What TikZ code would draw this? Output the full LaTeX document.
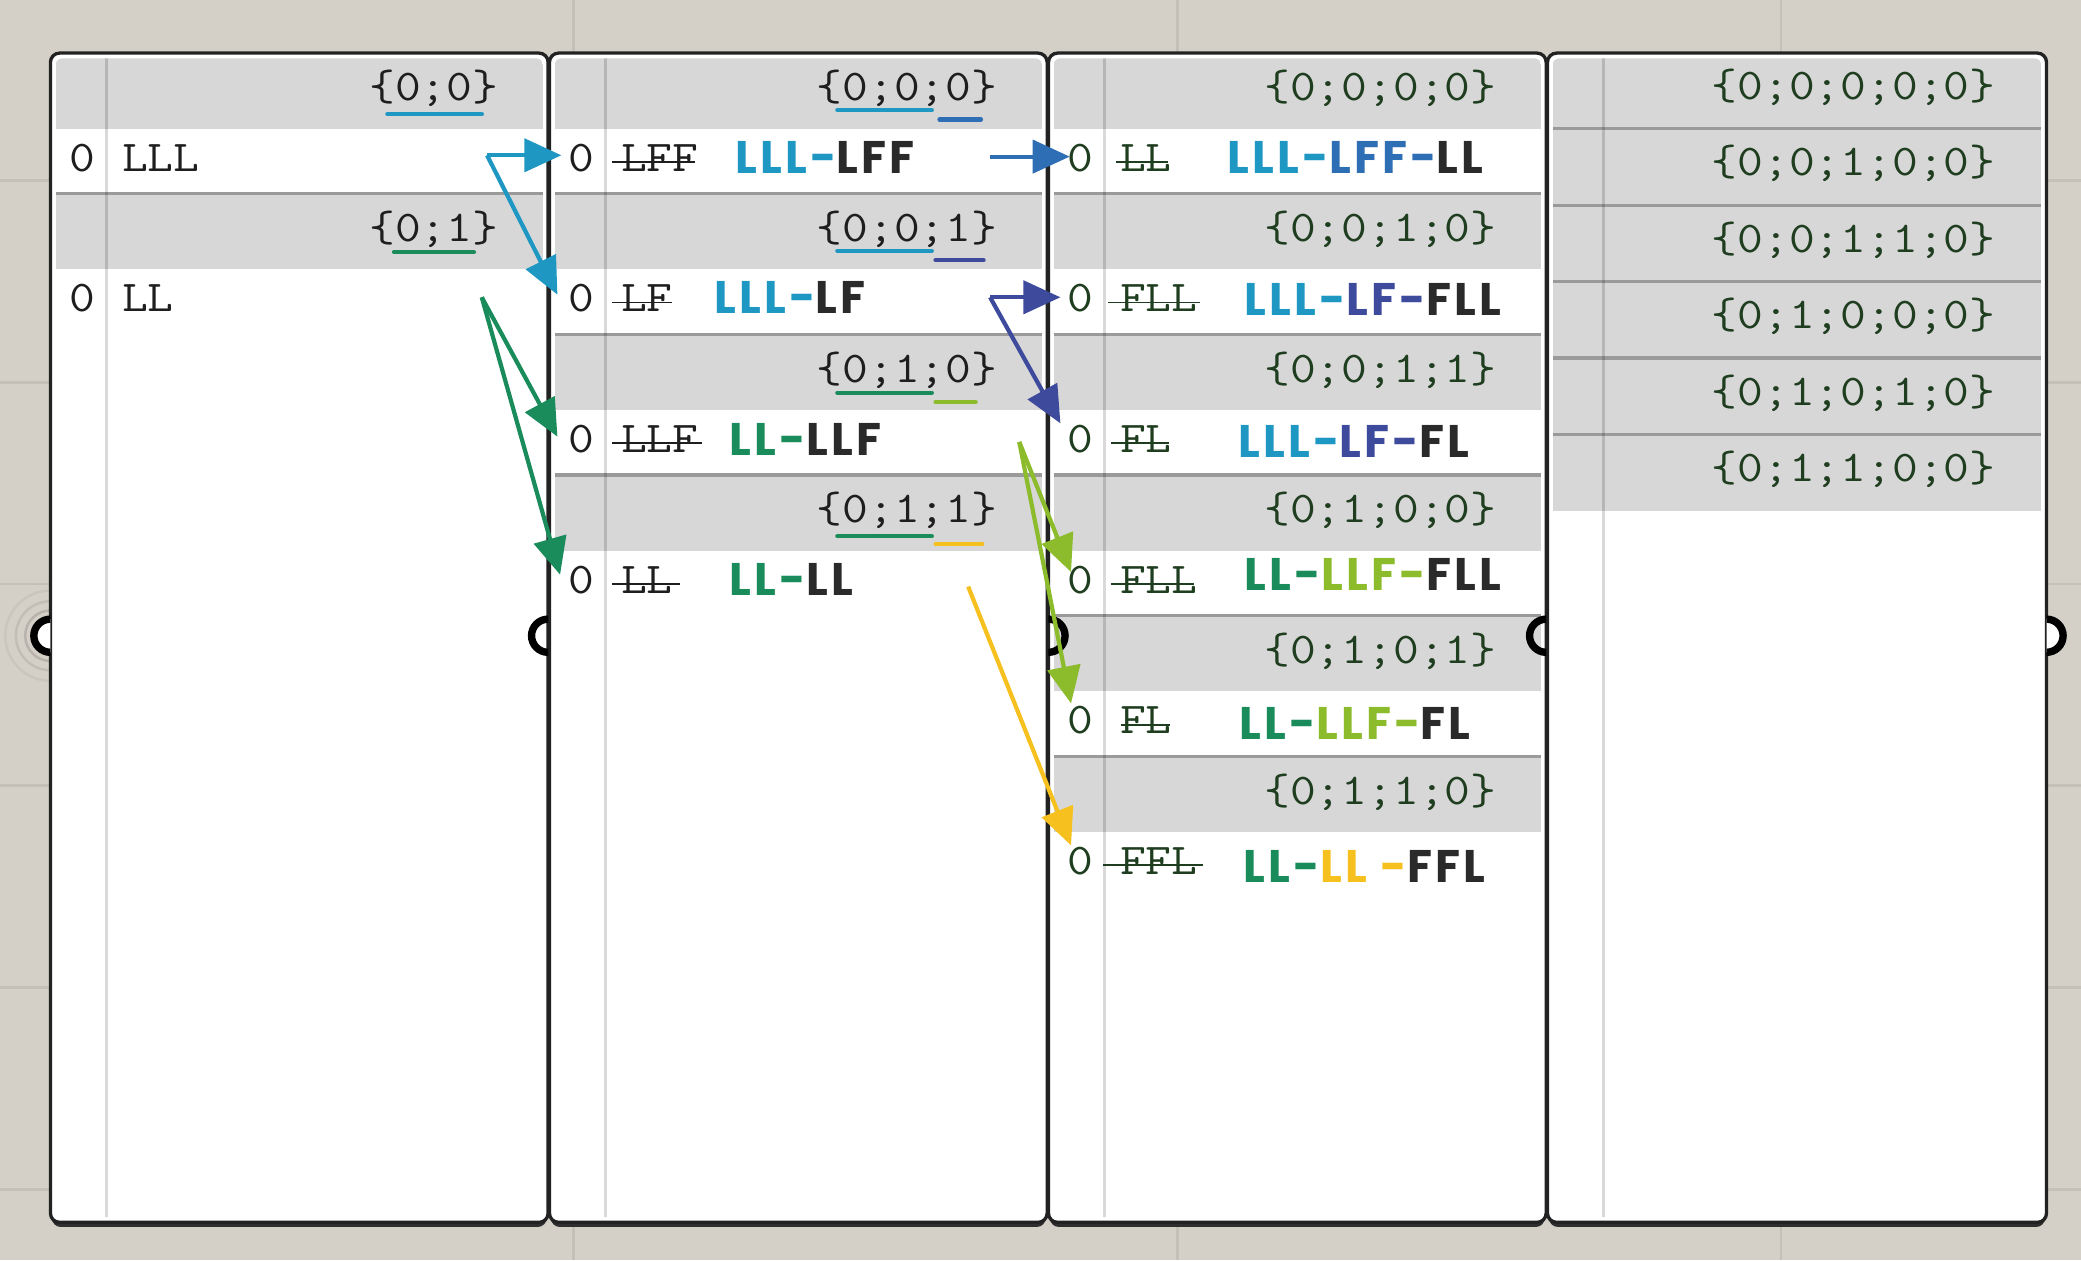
\documentclass[tikz,border=0pt]{standalone}
\usepackage{fontspec}
\usepackage{graphicx}
\usetikzlibrary{arrows.meta,calc}
\newfontfamily\handf{Poppins}[LetterSpace=7]
\newcommand\mt[1]{\scalebox{1.14}[1]{#1}}
\definecolor{bgc}{HTML}{D4D0C8}
\definecolor{gridc}{HTML}{C4C0B8}
\definecolor{ripa}{HTML}{B8B4AC}
\definecolor{ripb}{HTML}{C2BEB6}
\definecolor{ripc}{HTML}{CAC6BE}
\definecolor{rowgray}{HTML}{D7D7D7}
\definecolor{sepc}{HTML}{9A9A9A}
\definecolor{panelc}{HTML}{222222}
\definecolor{shadowc}{HTML}{2E2E2E}
\definecolor{ink}{HTML}{1E1E1E}
\definecolor{dgreen}{HTML}{1F3D1F}
\definecolor{cyanb}{HTML}{1E98C3}
\definecolor{greenb}{HTML}{1A8B5A}
\definecolor{steelb}{HTML}{2E6EB5}
\definecolor{indigob}{HTML}{3E4A9C}
\definecolor{limeb}{HTML}{8CBB2C}
\definecolor{yellowb}{HTML}{F6C11F}
\definecolor{handk}{HTML}{2A2A2A}
\tikzset{
  hdr/.style={font=\ttfamily\fontsize{12.5}{14}\selectfont, inner sep=0pt, anchor=base east},
  dat/.style={font=\ttfamily\fontsize{12.5}{14}\selectfont, inner sep=0pt, anchor=base west},
  hw/.style={font=\handf\bfseries\fontsize{13}{15}\selectfont, inner sep=0pt, anchor=base west, text=handk},
  ul/.style={line width=1.3pt, line cap=round},
  strk/.style={line width=0.5pt},
  wire/.style={line width=1.2pt, -{Triangle[length=3.7mm,width=3.3mm]}},
  grip/.style={line width=2.1pt, draw=black},
  gridl/.style={draw=gridc, line width=0.8pt},
  sepl/.style={draw=sepc, line width=0.94pt},
  coll/.style={draw=black, draw opacity=0.15, line width=0.94pt},
  rowg/.style={fill=rowgray},
  pborder/.style={draw=panelc, line width=0.94pt, rounded corners=2.6pt},
}
\newcommand\pnlback[2]{%
  \fill[shadowc, rounded corners=2.6pt] (#1+1,46) rectangle (#2-1,924.5);
  \fill[white, rounded corners=2.6pt] (#1,40) rectangle (#2,921);
}
\begin{document}
\begin{tikzpicture}[x=0.013272cm, y=-0.013272cm]
\useasboundingbox (0,0) rectangle (1568,949.4);
\fill[bgc] (0,0) rectangle (1568,949.4);
\foreach \gx in {432,887,1342} \draw[gridl] (\gx,0) -- (\gx,949.4);
\foreach \gy in {136,288,440,592,744,896} \draw[gridl] (0,\gy) -- (1568,\gy);
% ripples near the left grip
\begin{scope}
  \clip (0,400) rectangle (37,560);
  \draw[draw=ripa, line width=0.7pt] (38,479) circle[radius=19];
  \draw[draw=ripb, line width=0.7pt] (38,479) circle[radius=26];
  \draw[draw=ripc, line width=0.7pt] (38,479) circle[radius=34];
\end{scope}

% ---------- panel backgrounds ----------
\pnlback{38}{413}
\pnlback{414}{789}
\pnlback{790}{1165}
\pnlback{1166}{1542}

% ---------- panel 1 content ----------
\begin{scope}
  \clip[rounded corners=1.8pt] (42,44) rectangle (409,917);
  \fill[rowg] (42,44) rectangle (409,97);
  \fill[rowg] (42,146) rectangle (409,203);
  \draw[sepl] (42,146) -- (409,146);
  \draw[coll] (80,40) -- (80,921);
\end{scope}
% ---------- panel 2 content ----------
\begin{scope}
  \clip[rounded corners=1.8pt] (418,44) rectangle (785,917);
  \fill[rowg] (418,44) rectangle (785,97);
  \foreach \k in {1,2,3} {
    \fill[rowg] (418,146+106*\k-106) rectangle (785,203+106*\k-106);
    \draw[sepl] (418,146+106*\k-106) -- (785,146+106*\k-106);
  }
  \draw[coll] (456,40) -- (456,921);
\end{scope}
% ---------- panel 3 content ----------
\begin{scope}
  \clip[rounded corners=1.8pt] (794,44) rectangle (1161,917);
  \fill[rowg] (794,44) rectangle (1161,97);
  \foreach \k in {1,2,3,4,5} {
    \fill[rowg] (794,146+106*\k-106) rectangle (1161,203+106*\k-106);
    \draw[sepl] (794,146+106*\k-106) -- (1161,146+106*\k-106);
  }
  \draw[coll] (832,40) -- (832,921);
\end{scope}
% ---------- panel 4 content ----------
\begin{scope}
  \clip[rounded corners=1.8pt] (1170,44) rectangle (1538,917);
  \fill[rowg] (1170,44) rectangle (1538,385);
  \foreach \k in {0,1,2,3,4} {
    \draw[sepl] (1170,97+57.6*\k) -- (1538,97+57.6*\k);
  }
  \draw[coll] (1208,40) -- (1208,921);
\end{scope}

% ---------- panel borders ----------
\draw[pborder] (38,40) rectangle (413,921);
\draw[pborder] (414,40) rectangle (789,921);
\draw[pborder] (790,40) rectangle (1165,921);
\draw[pborder] (1166,40) rectangle (1542,921);

% ---------- grips ----------
\begin{scope}
  \clip (18,460) rectangle (38,500);
  \fill[white] (38,479) circle[radius=12.5];
  \draw[grip] (38,479) circle[radius=12.5];
\end{scope}
\begin{scope}
  \clip (395,460) rectangle (413,500);
  \draw[grip] (413,479) circle[radius=12.5];
\end{scope}
\begin{scope}
  \clip (790,460) rectangle (808,500);
  \draw[grip] (790,479) circle[radius=12.5];
\end{scope}
\begin{scope}
  \clip (1147,460) rectangle (1165,500);
  \draw[grip] (1165,479) circle[radius=12.5];
\end{scope}
\begin{scope}
  \clip (1542,460) rectangle (1562,500);
  \fill[white] (1542,479) circle[radius=12.5];
  \draw[grip] (1542,479) circle[radius=12.5];
\end{scope}

% ---------- panel 1 text ----------
\node[hdr, text=ink] (h1a) at (376,76) {\mt{\{0;0\}}};
\node[hdr, text=ink] (h1b) at (376,182) {\mt{\{0;1\}}};
\draw[ul, cyanb] (292,86) -- (363,86);
\draw[ul, greenb] (297,190) -- (357,190);
\node[dat, text=ink] (z1a) at (51.5,129) {\mt{0}};
\node[dat, text=ink] (t1a) at (91.5,129) {\mt{LLL}};
\node[dat, text=ink] (z1b) at (51.5,235) {\mt{0}};
\node[dat, text=ink] (t1b) at (91.5,235) {\mt{LL}};

% ---------- panel 2 text ----------
\node[hdr, text=ink] (h2a) at (752,76) {\mt{\{0;0;0\}}};
\node[hdr, text=ink] (h2b) at (752,182) {\mt{\{0;0;1\}}};
\node[hdr, text=ink] (h2c) at (752,288) {\mt{\{0;1;0\}}};
\node[hdr, text=ink] (h2d) at (752,394) {\mt{\{0;1;1\}}};
\draw[ul, cyanb] (631,83) -- (702,83);
\draw[ul, steelb] (708,90) -- (739,90);
\draw[ul, cyanb] (631,189) -- (702,189);
\draw[ul, indigob] (705,196) -- (741,196);
\draw[ul, greenb] (631,296) -- (702,296);
\draw[ul, limeb] (705,303) -- (735,303);
\draw[ul, greenb] (631,404) -- (702,404);
\draw[ul, yellowb] (705,410) -- (740,410);
\node[dat, text=ink] (z2a) at (427.5,129) {\mt{0}};
\node[dat, text=ink] (s2a) at (467.5,129) {\mt{LFF}};
\node[dat, text=ink] (z2b) at (427.5,235) {\mt{0}};
\node[dat, text=ink] (s2b) at (467.5,235) {\mt{LF}};
\node[dat, text=ink] (z2c) at (427.5,341) {\mt{0}};
\node[dat, text=ink] (s2c) at (467.5,341) {\mt{LLF}};
\node[dat, text=ink] (z2d) at (427.5,447) {\mt{0}};
\node[dat, text=ink] (s2d) at (467.5,447) {\mt{LL}};
\draw[strk, ink] ($(s2a.base west)+(-6,-7)$) -- ($(s2a.base east)+(-3,-7)$);
\draw[strk, ink] ($(s2b.base west)+(-6,-7)$) -- ($(s2b.base east)+(-1,-7)$);
\draw[strk, ink] ($(s2c.base west)+(-6,-7)$) -- ($(s2c.base east)+(2,-7)$);
\draw[strk, ink] ($(s2d.base west)+(-6,-7)$) -- ($(s2d.base east)+(5,-7)$);
\node[hw] (w2a) at (553.5,131) {\textcolor{cyanb}{LLL-}LFF};
\node[hw] (w2b) at (537.5,236) {\textcolor{cyanb}{LLL-}LF};
\node[hw] (w2c) at (549.5,343) {\textcolor{greenb}{LL-}LLF};
\node[hw] (w2d) at (549.5,449) {\textcolor{greenb}{LL-}LL};

% ---------- panel 3 text ----------
\node[hdr, text=dgreen] (h3a) at (1128,76) {\mt{\{0;0;0;0\}}};
\node[hdr, text=dgreen] (h3b) at (1128,182) {\mt{\{0;0;1;0\}}};
\node[hdr, text=dgreen] (h3c) at (1128,288) {\mt{\{0;0;1;1\}}};
\node[hdr, text=dgreen] (h3d) at (1128,394) {\mt{\{0;1;0;0\}}};
\node[hdr, text=dgreen] (h3e) at (1128,500) {\mt{\{0;1;0;1\}}};
\node[hdr, text=dgreen] (h3f) at (1128,606) {\mt{\{0;1;1;0\}}};
\node[dat, text=dgreen] (z3a) at (803.5,129) {\mt{0}};
\node[dat, text=dgreen] (s3a) at (843.5,129) {\mt{LL}};
\node[dat, text=dgreen] (z3b) at (803.5,235) {\mt{0}};
\node[dat, text=dgreen] (s3b) at (843.5,235) {\mt{FLL}};
\node[dat, text=dgreen] (z3c) at (803.5,341) {\mt{0}};
\node[dat, text=dgreen] (s3c) at (843.5,341) {\mt{FL}};
\node[dat, text=dgreen] (z3d) at (803.5,447) {\mt{0}};
\node[dat, text=dgreen] (s3d) at (843.5,447) {\mt{FLL}};
\node[dat, text=dgreen] (z3e) at (803.5,553) {\mt{0}};
\node[dat, text=dgreen] (s3e) at (843.5,553) {\mt{FL}};
\node[dat, text=dgreen] (z3f) at (803.5,659) {\mt{0}};
\node[dat, text=dgreen] (s3f) at (843.5,659) {\mt{FFL}};
\draw[strk, dgreen] ($(s3a.base west)+(-2.5,-7)$) -- ($(s3a.base east)+(-3.5,-7)$);
\draw[strk, dgreen] ($(s3b.base west)+(-8.5,-7)$) -- ($(s3b.base east)+(1.5,-7)$);
\draw[strk, dgreen] ($(s3c.base west)+(-6.5,-7)$) -- ($(s3c.base east)+(-2.5,-7)$);
\draw[strk, dgreen] ($(s3d.base west)+(-6.5,-7)$) -- ($(s3d.base east)+(-3,-7)$);
\draw[strk, dgreen] ($(s3e.base west)+(1.5,-7)$) -- ($(s3e.base east)+(-1.5,-7)$);
\draw[strk, dgreen] ($(s3f.base west)+(-12.5,-7)$) -- ($(s3f.base east)+(3.5,-7)$);
\node[hw] (w3a) at (924.5,131) {\textcolor{cyanb}{LLL-}\textcolor{steelb}{LFF-}LL};
\node[hw] (w3b) at (937.5,238) {\textcolor{cyanb}{LLL-}\textcolor{indigob}{LF-}FLL};
\node[hw] (w3c) at (932.5,345) {\textcolor{cyanb}{LLL-}\textcolor{indigob}{LF-}FL};
\node[hw] (w3d) at (937.5,445) {\textcolor{greenb}{LL-}\textcolor{limeb}{LLF-}FLL};
\node[hw] (w3e) at (933.5,557) {\textcolor{greenb}{LL-}\textcolor{limeb}{LLF-}FL};
\node[hw] (w3f) at (936.5,665) {\textcolor{greenb}{LL-}\textcolor{yellowb}{LL\hspace{0.3em}-}FFL};

% ---------- panel 4 text ----------
\node[hdr, text=dgreen] (h4a) at (1504,75) {\mt{\{0;0;0;0;0\}}};
\node[hdr, text=dgreen] (h4b) at (1504,132.6) {\mt{\{0;0;1;0;0\}}};
\node[hdr, text=dgreen] (h4c) at (1504,190.2) {\mt{\{0;0;1;1;0\}}};
\node[hdr, text=dgreen] (h4d) at (1504,247.8) {\mt{\{0;1;0;0;0\}}};
\node[hdr, text=dgreen] (h4e) at (1504,305.4) {\mt{\{0;1;0;1;0\}}};
\node[hdr, text=dgreen] (h4f) at (1504,363) {\mt{\{0;1;1;0;0\}}};

% ---------- wires ----------
\coordinate (a1s) at (367,117);
\coordinate (a1t) at (423,117);
\coordinate (a2t) at (420,222);
\coordinate (g1s) at (363,224);
\coordinate (g1t) at (420,329);
\coordinate (g2t) at (422,433);
\coordinate (s1s) at (746,118);
\coordinate (s1t) at (806,118);
\coordinate (i1s) at (746,224);
\coordinate (i1t) at (799,224);
\coordinate (i2t) at (799,319);
\coordinate (l1s) at (768,333);
\coordinate (l1t) at (807,431);
\coordinate (l2t) at (807,530);
\coordinate (y1s) at (729.5,442);
\coordinate (y1t) at (807,637);
\draw[wire, color=cyanb] (a1s) -- (a1t);
\draw[wire, color=cyanb] (a1s) -- (a2t);
\draw[wire, color=greenb] (g1s) -- (g1t);
\draw[wire, color=greenb] (g1s) -- (g2t);
\draw[wire, color=steelb] (s1s) -- (s1t);
\draw[wire, color=indigob] (i1s) -- (i1t);
\draw[wire, color=indigob] (i1s) -- (i2t);
\draw[wire, color=limeb] (l1s) -- (l1t);
\draw[wire, color=limeb] (l1s) -- (l2t);
\draw[wire, color=yellowb] (y1s) -- (y1t);
\end{tikzpicture}
\end{document}
